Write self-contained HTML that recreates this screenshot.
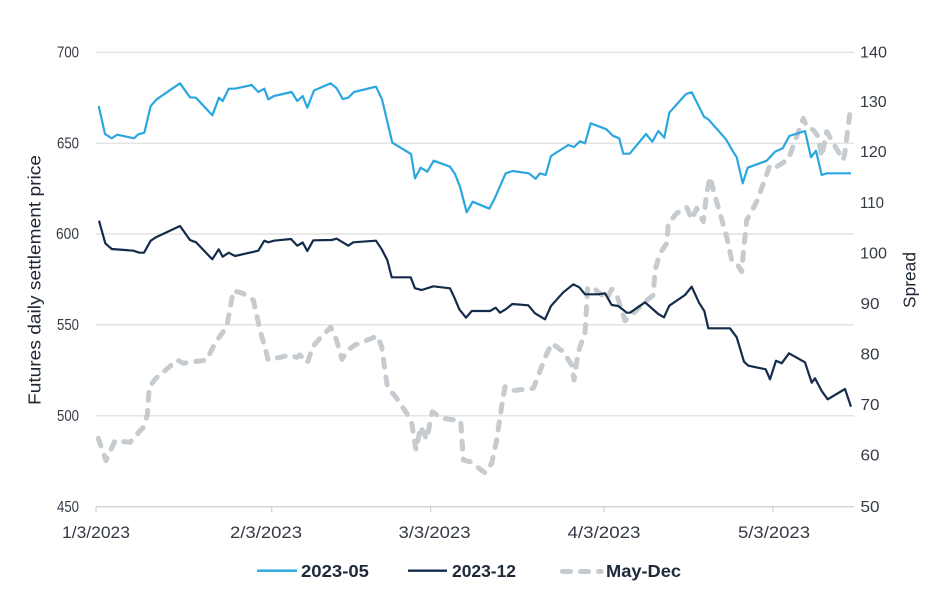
<!DOCTYPE html>
<html>
<head>
<meta charset="utf-8">
<style>
  html, body { margin: 0; padding: 0; background: #ffffff; }
  svg { display: block; }
  text { font-family: "Liberation Sans", "DejaVu Sans", sans-serif; }
</style>
</head>
<body>
<svg width="940" height="600" viewBox="0 0 940 600" xmlns="http://www.w3.org/2000/svg">
  <rect x="0" y="0" width="940" height="600" fill="#ffffff"/>

  <!-- gridlines -->
  <g stroke="#dcdcdc" stroke-width="1.2">
    <line x1="96" y1="52.3" x2="854" y2="52.3"/>
    <line x1="96" y1="143.2" x2="854" y2="143.2"/>
    <line x1="96" y1="234" x2="854" y2="234"/>
    <line x1="96" y1="324.9" x2="854" y2="324.9"/>
    <line x1="96" y1="415.8" x2="854" y2="415.8"/>
  </g>
  <!-- x axis -->
  <line x1="96" y1="506.7" x2="854" y2="506.7" stroke="#d6d6d6" stroke-width="1.5"/>
  <g stroke="#d0d0d0" stroke-width="1.2">
    <line x1="96" y1="506.7" x2="96" y2="512"/>
    <line x1="271.7" y1="506.7" x2="271.7" y2="512"/>
    <line x1="430.7" y1="506.7" x2="430.7" y2="512"/>
    <line x1="604" y1="506.7" x2="604" y2="512"/>
    <line x1="773" y1="506.7" x2="773" y2="512"/>
  </g>

  <!-- left axis labels -->
  <g font-size="16" fill="#343a45" text-anchor="end">
    <text x="79" y="57.5" textLength="22" lengthAdjust="spacingAndGlyphs">700</text>
    <text x="79" y="148.4" textLength="22" lengthAdjust="spacingAndGlyphs">650</text>
    <text x="79" y="239.2" textLength="23" lengthAdjust="spacingAndGlyphs">600</text>
    <text x="79" y="330.1" textLength="22" lengthAdjust="spacingAndGlyphs">550</text>
    <text x="79" y="421" textLength="22" lengthAdjust="spacingAndGlyphs">500</text>
    <text x="79" y="511.9" textLength="22" lengthAdjust="spacingAndGlyphs">450</text>
  </g>

  <!-- right axis labels -->
  <g font-size="16" fill="#343a45" text-anchor="start">
    <text x="860" y="57.5" textLength="27" lengthAdjust="spacingAndGlyphs">140</text>
    <text x="860" y="107" textLength="26.7" lengthAdjust="spacingAndGlyphs">130</text>
    <text x="860" y="157" textLength="26.7" lengthAdjust="spacingAndGlyphs">120</text>
    <text x="860" y="208" textLength="24" lengthAdjust="spacingAndGlyphs">110</text>
    <text x="860" y="258.5" textLength="27" lengthAdjust="spacingAndGlyphs">100</text>
    <text x="860.5" y="309" textLength="19" lengthAdjust="spacingAndGlyphs">90</text>
    <text x="860.5" y="359.5" textLength="19" lengthAdjust="spacingAndGlyphs">80</text>
    <text x="860.5" y="410" textLength="19" lengthAdjust="spacingAndGlyphs">70</text>
    <text x="860.5" y="460.5" textLength="19" lengthAdjust="spacingAndGlyphs">60</text>
    <text x="860.5" y="511.9" textLength="19" lengthAdjust="spacingAndGlyphs">50</text>
  </g>

  <!-- x axis labels -->
  <g font-size="17" fill="#343a45" text-anchor="middle">
    <text x="96" y="538" textLength="68" lengthAdjust="spacingAndGlyphs">1/3/2023</text>
    <text x="266" y="538" textLength="72" lengthAdjust="spacingAndGlyphs">2/3/2023</text>
    <text x="434.5" y="538" textLength="72" lengthAdjust="spacingAndGlyphs">3/3/2023</text>
    <text x="604" y="538" textLength="73" lengthAdjust="spacingAndGlyphs">4/3/2023</text>
    <text x="774" y="538" textLength="72" lengthAdjust="spacingAndGlyphs">5/3/2023</text>
  </g>

  <!-- axis titles -->
  <text transform="translate(40.5,280) rotate(-90)" x="0" y="0" text-anchor="middle" font-size="17.5" fill="#1f2733" textLength="250" lengthAdjust="spacingAndGlyphs">Futures daily settlement price</text>
  <text transform="translate(915.5,280) rotate(-90)" x="0" y="0" text-anchor="middle" font-size="17.5" fill="#1f2733" textLength="56" lengthAdjust="spacingAndGlyphs">Spread</text>

  <!-- May-Dec spread (dashed) -->
  <polyline fill="none" stroke="#c6cbcf" stroke-width="5" stroke-linecap="round" stroke-linejoin="round" stroke-dasharray="8 10"
    points="98.3,438.3 106,460.5 115,440.7 130,442.3 143.3,427.3 147.3,415 149.3,386.7 156,378.3 177.3,360 183.3,363.3 206.7,360 215,343.3 226.7,326.7 233.3,290.7 242.7,293.3 253.3,300 260,330 268.3,360 290,355 296.7,357.3 300,355 307.3,362.7 313.3,346 320,338.3 330.7,327.3 336.5,340 342,359.3 347,350.7 355,345 377.3,336 381.7,346.7 387.3,386.7 396.7,398.3 406.7,413.3 411.7,423.3 416,450 420.7,426.7 426.7,439.3 432.3,411.7 441.7,418.3 455,420 460.7,420.7 463.3,460 470,461.7 485,472.7 491.7,463.3 496.7,440 500,416.7 505,386.7 511.7,390.7 533.3,388.3 537.3,378.3 545,357.7 551.7,343.3 563.3,351.7 571.7,365 574,380 578.3,351.7 585,332.7 587.7,287.3 595,289.3 601.7,295 606.7,299.3 611.7,289.3 616.7,295 621.7,310 625,320.7 633.3,313.3 643.3,303.3 653.3,295 655,270 660,253.3 666.7,243.3 668.3,223.3 676.7,213.3 686.7,207.3 691.7,219.3 696.7,208.3 703.3,221.7 706.7,193.3 710,177 713.3,190 720,213.3 726.7,236.7 731.7,260 736.7,263.3 741.7,271.7 743.3,253.3 746.7,220 756.7,201.7 770,165 776.7,166.7 788.3,159.3 803.3,118.3 806.7,126.7 813.3,130 818.3,136.7 821.7,156.7 826.7,131.7 833.3,143.3 843.3,160 845,151.7 850,112"/>

  <!-- 2023-12 (dark) -->
  <polyline fill="none" stroke="#142b4c" stroke-width="2.2" stroke-linejoin="round"
    points="99,220.7 105.3,243.3 111.7,249 133.3,250.7 139.3,252.7 144,252.7 150.7,240.7 156,237.3 180,226 190,240 196,242.3 212.3,259.3 218.7,249.3 222.7,256.7 228.7,252.7 235,256 258.3,250.7 264.3,240.7 268.3,242.3 274,240.7 291,239 297.3,245.7 302.7,242.5 307.3,251 313.3,240.3 331.7,240 336.7,238.7 348.3,245.7 353.3,242.3 376,240.7 381.7,249.3 387.3,260 391.7,277.3 410.7,277.3 415,288.3 421.7,290 433.3,286.3 450,288.3 454,296.7 459.3,309.3 466,317.7 471.7,311 490,311 495.7,307.7 500,312.7 505.7,309.3 512.3,304 528.3,305.3 535,313.3 545,319.3 551,306 563.3,292.3 573.3,284.3 579.3,287.3 585,294.3 598.3,294.3 605,293.3 611.7,305 618.3,306 626.7,312.7 630,312.7 645,302.3 658.3,314 664,317.3 669.3,305.7 685,295 691.7,286.7 699,302.7 704.3,311 708.3,328.3 730,328.3 736.7,337.3 744,361.7 748.3,365.7 765.7,369.3 770,379.3 776,360.7 781.7,363.3 789,353.3 805,362.3 811.7,382.7 815,378.3 821.7,391 827.7,399.3 845,389 851,406.7"/>

  <!-- 2023-05 (blue) -->
  <polyline fill="none" stroke="#2aa7df" stroke-width="2.2" stroke-linejoin="round"
    points="98.7,106 105,134 111.7,138.3 117.3,134.7 134,138.3 138.3,134.3 144.3,132.7 150.7,106 156.7,99.3 180,83.3 190,97.3 196,97.7 212.3,115.3 219,97.7 222.7,101 228.7,88.7 235,88.7 251.7,85 258.3,92 264.3,88.7 268.3,99.3 274,96 291.7,92 297.3,101 302.7,96 307.3,107.7 314,90.5 330.7,83.3 336.7,88.3 342.7,99 348.3,97.7 354,92 376,86.7 382,99.3 392.3,142.7 411,154 415,178.3 420.7,167.7 427.3,171.7 433.7,160.7 450,166.7 455,174 460,186.7 466.7,212.3 472.7,201.7 489.3,208.7 495,197.7 505.7,173.3 512.7,171 528.7,173.3 535.7,178.7 540,173.3 545.7,175 551,156 568.3,145 574,147 580,141.3 585,143.3 590.7,123.3 606.3,129.2 612.8,135.7 619.2,138.3 623.3,153.7 629.7,153.7 646,134 652.3,141.7 658.3,131 664.3,137.7 669.3,112.7 686,94 691.7,92.3 697.3,103.3 704,116.7 708.3,119.3 726,139.3 731.7,149.3 736.7,157.3 742.7,183.3 747.7,167.7 766.7,160.7 775,151.7 782.7,148.3 789.3,136 805,131 811,157.3 816,150.7 821.7,175 826.7,173.3 851,173.3"/>

  <!-- legend -->
  <line x1="257" y1="570.7" x2="297" y2="570.7" stroke="#2aa7df" stroke-width="2.4"/>
  <text x="301" y="577" font-size="17.5" font-weight="bold" fill="#1e2a3a" textLength="68" lengthAdjust="spacingAndGlyphs">2023-05</text>
  <line x1="408" y1="570.7" x2="447" y2="570.7" stroke="#142b4c" stroke-width="2.4"/>
  <text x="452" y="577" font-size="17.5" font-weight="bold" fill="#1e2a3a" textLength="64" lengthAdjust="spacingAndGlyphs">2023-12</text>
  <line x1="562.5" y1="571.5" x2="601" y2="571.5" stroke="#c6cbcf" stroke-width="5" stroke-linecap="round" stroke-dasharray="8 10"/>
  <text x="606" y="577" font-size="17.5" font-weight="bold" fill="#1e2a3a" textLength="75" lengthAdjust="spacingAndGlyphs">May-Dec</text>
</svg>
</body>
</html>
